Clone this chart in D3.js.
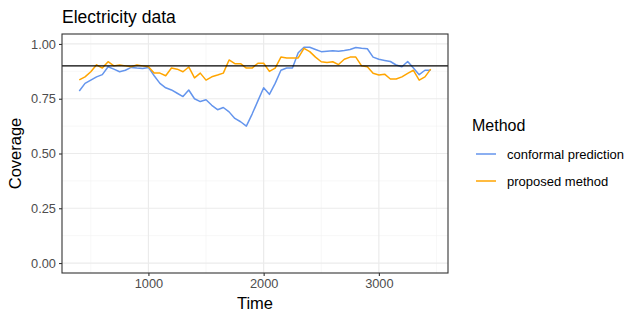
<!DOCTYPE html>
<html>
<head>
<meta charset="utf-8">
<script src="https://cdn.jsdelivr.net/npm/d3@7"></script>
<style>
  body { margin: 0; background: #fff; }
  text { font-family: "Liberation Sans", Arial, sans-serif; }
</style>
</head>
<body>
<svg id="chart" width="644" height="322"></svg>
<script>
const WIDTH = 644;
const HEIGHT = 322;
const MARGIN = { top: 34, right: 196, bottom: 49, left: 62 };

const title = "Electricity data";
const methods = ["conformal prediction", "proposed method"];
const colors = ["#6495ED", "#FFA500"];
const target = 0.9;

const time = d3.range(400, 3451, 50);
const conformal = [
  0.785, 0.82, 0.835, 0.85, 0.86, 0.896, 0.885, 0.873, 0.88, 0.893,
  0.89, 0.888, 0.893, 0.855, 0.82, 0.80, 0.79, 0.775, 0.76, 0.79,
  0.75, 0.737, 0.745, 0.72, 0.70, 0.71, 0.69, 0.66, 0.645, 0.625,
  0.68, 0.74, 0.80, 0.77, 0.82, 0.88, 0.89, 0.89, 0.96, 0.985,
  0.985, 0.975, 0.965, 0.967, 0.969, 0.967, 0.97, 0.975, 0.984, 0.98,
  0.978, 0.94, 0.93, 0.925, 0.92, 0.904, 0.896, 0.92, 0.89, 0.86,
  0.88, 0.88
];
const proposed = [
  0.836, 0.85, 0.873, 0.905, 0.89, 0.919, 0.9, 0.904, 0.9, 0.896,
  0.904, 0.9, 0.896, 0.867, 0.867, 0.855, 0.89, 0.885, 0.873, 0.895,
  0.845, 0.867, 0.835, 0.85, 0.858, 0.867, 0.927, 0.91, 0.91, 0.89,
  0.89, 0.912, 0.912, 0.875, 0.89, 0.94, 0.936, 0.936, 0.936, 0.98,
  0.965, 0.94, 0.919, 0.915, 0.919, 0.906, 0.93, 0.94, 0.94, 0.9,
  0.896, 0.866, 0.858, 0.862, 0.84, 0.84, 0.85, 0.866, 0.88, 0.835,
  0.85, 0.885
];

const xTicks = [1000, 2000, 3000];
const xMinor = [500, 1500, 2500, 3500];
const yTicks = [0, 0.25, 0.5, 0.75, 1];
const yMinor = [0.125, 0.375, 0.625, 0.875];

const series = [conformal, proposed];

const svg = d3.select("#chart");
const pw = WIDTH - MARGIN.left - MARGIN.right;
const ph = HEIGHT - MARGIN.top - MARGIN.bottom;

const x = d3.scaleLinear().domain([250, 3600]).range([0, pw]);
const y = d3.scaleLinear().domain([-0.0455, 1.0455]).range([ph, 0]);

svg.append("text")
  .attr("x", MARGIN.left).attr("y", 23)
  .attr("font-size", 17.5).attr("fill", "#000")
  .text(title);

const g = svg.append("g").attr("transform", `translate(${MARGIN.left},${MARGIN.top})`);

// grid
g.selectAll(".xminor").data(xMinor).enter().append("line")
  .attr("x1", d => x(d)).attr("x2", d => x(d)).attr("y1", 0).attr("y2", ph)
  .attr("stroke", "#F2F2F2").attr("stroke-width", 0.6);
g.selectAll(".yminor").data(yMinor).enter().append("line")
  .attr("y1", d => y(d)).attr("y2", d => y(d)).attr("x1", 0).attr("x2", pw)
  .attr("stroke", "#F2F2F2").attr("stroke-width", 0.6);
g.selectAll(".xmajor").data(xTicks).enter().append("line")
  .attr("x1", d => x(d)).attr("x2", d => x(d)).attr("y1", 0).attr("y2", ph)
  .attr("stroke", "#EBEBEB").attr("stroke-width", 1.2);
g.selectAll(".ymajor").data(yTicks).enter().append("line")
  .attr("y1", d => y(d)).attr("y2", d => y(d)).attr("x1", 0).attr("x2", pw)
  .attr("stroke", "#EBEBEB").attr("stroke-width", 1.2);

// lines
const line = d3.line()
  .x((d, i) => x(time[i]))
  .y(d => y(d));

g.selectAll(".series").data(series).enter().append("path")
  .attr("d", line)
  .attr("fill", "none")
  .attr("stroke", (d, i) => colors[i])
  .attr("stroke-width", 1.5)
  .attr("stroke-linejoin", "round");

g.append("line")
  .attr("x1", 0).attr("x2", pw).attr("y1", y(target)).attr("y2", y(target))
  .attr("stroke", "#000").attr("stroke-width", 1.4);

g.append("rect")
  .attr("width", pw).attr("height", ph)
  .attr("fill", "none").attr("stroke", "#333").attr("stroke-width", 1.1);

// axes
const xAxis = g.append("g").attr("transform", `translate(0,${ph})`)
  .call(d3.axisBottom(x).tickValues(xTicks).tickSize(3).tickPadding(3).tickFormat(d3.format("d")));
const yAxis = g.append("g")
  .call(d3.axisLeft(y).tickValues(yTicks).tickSize(3).tickPadding(3).tickFormat(d3.format(".2f")));
[xAxis, yAxis].forEach(a => {
  a.select(".domain").remove();
  a.selectAll(".tick line").attr("stroke", "#333").attr("stroke-width", 1.1);
  a.selectAll(".tick text").attr("fill", "#4D4D4D").attr("font-size", 12.8)
    .attr("font-family", "Liberation Sans, Arial, sans-serif");
});

svg.append("text")
  .attr("x", MARGIN.left + pw / 2).attr("y", 309)
  .attr("text-anchor", "middle").attr("font-size", 16.5).text("Time");
svg.append("text")
  .attr("transform", `translate(21,${MARGIN.top + ph / 2}) rotate(-90)`)
  .attr("text-anchor", "middle").attr("font-size", 16.5).text("Coverage");

// legend
const legend = svg.append("g").attr("transform", "translate(472,0)");
legend.append("text").attr("x", 0).attr("y", 131).attr("font-size", 16).text("Method");
const items = legend.selectAll(".item").data(methods).enter().append("g")
  .attr("transform", (d, i) => `translate(0,${154 + i * 27})`);
items.append("line")
  .attr("x1", 4).attr("x2", 24).attr("y1", 0).attr("y2", 0)
  .attr("stroke", (d, i) => colors[i]).attr("stroke-width", 1.5);
items.append("text")
  .attr("x", 35).attr("y", 4.5).attr("font-size", 13).text(d => d);
</script>
</body>
</html>
